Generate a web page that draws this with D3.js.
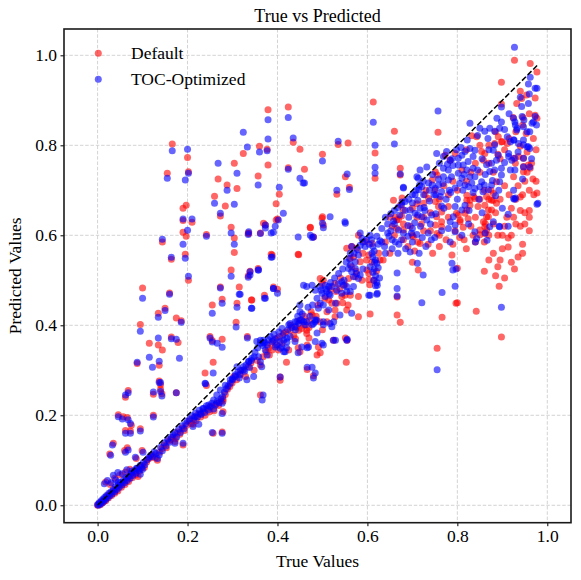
<!DOCTYPE html>
<html>
<head>
<meta charset="utf-8">
<script src="https://d3js.org/d3.v7.min.js"></script>
<style>
  body { margin: 0; background: #fff; }
  text { font-family: "Liberation Serif", "Times New Roman", serif; fill: #000; }
</style>
</head>
<body>
<div id="chart"></div>
<script>
// ---- data: [true, predicted] ----
// near-diagonal band, true 0 .. 0.3
const bandToc = [
  [0.000,0.002],[0.002,0.000],[0.004,0.006],[0.006,0.003],[0.008,0.010],[0.010,0.005],[0.012,0.014],[0.014,0.009],[0.016,0.018],[0.018,0.013],
  [0.020,0.022],[0.022,0.017],[0.025,0.027],[0.027,0.021],[0.030,0.030],[0.032,0.025],[0.035,0.035],[0.038,0.030],[0.040,0.041],[0.043,0.035],
  [0.046,0.045],[0.048,0.040],[0.051,0.050],[0.054,0.045],[0.057,0.055],[0.060,0.050],[0.063,0.061],[0.066,0.055],[0.069,0.065],[0.072,0.060],
  [0.075,0.071],[0.078,0.066],[0.082,0.077],[0.085,0.071],[0.088,0.083],[0.092,0.078],[0.095,0.089],[0.098,0.084],[0.102,0.095],[0.105,0.090],
  [0.015,0.048],[0.022,0.055],[0.030,0.050],[0.040,0.057],[0.046,0.052],[0.035,0.067],[0.045,0.073],[0.055,0.070],[0.065,0.079],[0.076,0.076],[0.086,0.082],[0.095,0.069],[0.100,0.080],
  [0.110,0.101],[0.114,0.106],[0.118,0.111],[0.122,0.108],[0.126,0.119],[0.130,0.115],[0.133,0.104],[0.137,0.112],[0.140,0.129],[0.144,0.121],[0.148,0.139],[0.152,0.132],
  [0.156,0.147],[0.160,0.140],[0.164,0.151],[0.168,0.157],[0.172,0.161],[0.176,0.152],[0.180,0.169],[0.184,0.162],[0.188,0.177],[0.192,0.170],[0.196,0.181],[0.200,0.187],
  [0.205,0.192],[0.210,0.199],[0.214,0.190],[0.218,0.205],[0.222,0.196],[0.226,0.211],[0.230,0.202],[0.234,0.215],[0.238,0.206],[0.242,0.221],[0.246,0.212],[0.250,0.219],
  [0.254,0.227],[0.258,0.214],[0.262,0.223],[0.266,0.231],[0.270,0.228],[0.274,0.237],[0.278,0.241],[0.282,0.251],[0.286,0.259],[0.290,0.265],[0.295,0.271],[0.300,0.279],
  [0.217,0.197],[0.228,0.204],[0.236,0.215],[0.247,0.223],[0.258,0.234],[0.265,0.245],[0.273,0.256],[0.284,0.267],[0.295,0.279]
];
const bandDefault = [
  [0.000,0.000],[0.003,0.004],[0.006,0.001],[0.009,0.008],[0.012,0.006],[0.015,0.013],[0.018,0.010],[0.021,0.020],[0.024,0.016],[0.027,0.025],
  [0.031,0.022],[0.034,0.031],[0.038,0.027],[0.041,0.037],[0.045,0.032],[0.049,0.044],[0.053,0.040],[0.057,0.051],[0.061,0.046],[0.065,0.058],
  [0.069,0.053],[0.073,0.066],[0.077,0.061],[0.081,0.073],[0.085,0.068],[0.090,0.081],[0.094,0.076],[0.099,0.088],[0.104,0.084],
  [0.018,0.052],[0.028,0.046],[0.038,0.060],[0.050,0.068],[0.062,0.074],[0.072,0.080],[0.090,0.064],
  [0.109,0.096],[0.113,0.103],[0.118,0.107],[0.123,0.112],[0.128,0.105],[0.133,0.100],[0.138,0.118],[0.143,0.126],[0.148,0.134],[0.153,0.128],
  [0.158,0.143],[0.163,0.146],[0.168,0.152],[0.173,0.148],[0.178,0.163],[0.183,0.158],[0.188,0.172],[0.193,0.166],[0.198,0.178],
  [0.204,0.188],[0.209,0.182],[0.214,0.195],[0.219,0.188],[0.224,0.203],[0.229,0.196],[0.234,0.208],[0.239,0.200],[0.244,0.215],[0.249,0.208],
  [0.254,0.220],[0.259,0.210],[0.264,0.226],[0.269,0.222],[0.274,0.232],[0.279,0.236],[0.284,0.246],[0.289,0.258],[0.294,0.264],[0.299,0.272]
];

// band, true 0.3 .. 0.64
const midToc = [
  [0.300,0.282],[0.306,0.290],[0.312,0.296],[0.318,0.300],[0.324,0.308],[0.330,0.312],[0.336,0.320],[0.342,0.322],[0.348,0.330],[0.315,0.283],
  [0.327,0.298],[0.338,0.306],[0.310,0.308],[0.325,0.301],[0.336,0.319],[0.343,0.327],[0.358,0.330],[0.362,0.319],[0.365,0.308],[0.347,0.286],
  [0.332,0.279],[0.317,0.290],[0.306,0.286],
  [0.384,0.375],[0.391,0.367],[0.399,0.356],[0.406,0.349],[0.417,0.341],[0.421,0.363],[0.428,0.375],[0.439,0.397],[0.447,0.404],[0.451,0.412],
  [0.458,0.408],[0.362,0.367],[0.369,0.360],[0.373,0.345],[0.377,0.334],[0.480,0.404],[0.487,0.412],[0.502,0.408],[0.517,0.404],
  [0.458,0.489],[0.465,0.486],[0.477,0.489],[0.484,0.478],[0.495,0.486],[0.506,0.489],[0.514,0.486],[0.521,0.486],[0.510,0.475],[0.506,0.464],
  [0.517,0.467],[0.499,0.471],[0.532,0.478],[0.543,0.497],[0.547,0.489],[0.554,0.486],[0.554,0.475],[0.543,0.471],[0.562,0.475],[0.569,0.486],
  [0.558,0.526],[0.562,0.534],[0.565,0.519],[0.569,0.508],[0.573,0.526],[0.576,0.515],[0.580,0.504],[0.584,0.512],
  [0.562,0.560],[0.573,0.541],[0.580,0.556],[0.565,0.575],[0.584,0.578],[0.595,0.575],[0.588,0.593],
  [0.606,0.600],[0.609,0.590],[0.612,0.575],[0.615,0.565],[0.612,0.552],[0.618,0.545],[0.621,0.538],[0.615,0.525],[0.612,0.518],[0.618,0.510],
  [0.621,0.495],[0.618,0.488],[0.624,0.580],[0.628,0.588],[0.621,0.598],[0.632,0.585],[0.638,0.575],[0.603,0.467],[0.621,0.469],
  [0.495,0.449],[0.502,0.445],[0.491,0.438],[0.514,0.434],[0.539,0.423],[0.565,0.427],[0.484,0.412],[0.502,0.401],[0.525,0.408],[0.521,0.397],
  [0.450,0.430],[0.428,0.404],[0.439,0.408],[0.443,0.408],[0.454,0.412],[0.462,0.401],[0.465,0.408],[0.477,0.401],[0.484,0.408],[0.410,0.393],
  [0.425,0.401],[0.388,0.364],[0.399,0.371],[0.406,0.364],[0.414,0.367],[0.421,0.371],[0.395,0.352],[0.410,0.352],[0.354,0.364],[0.362,0.360],
  [0.369,0.367],[0.377,0.356],[0.414,0.341],[0.454,0.352],[0.469,0.352],[0.484,0.364],[0.499,0.360],[0.554,0.367],[0.439,0.364],
  [0.380,0.368],[0.392,0.380],[0.403,0.385],[0.412,0.378],[0.423,0.390],[0.432,0.395],[0.445,0.420],[0.455,0.425],[0.468,0.440],[0.478,0.445],
  [0.488,0.460],[0.497,0.478],[0.508,0.480],[0.518,0.495],[0.527,0.505],[0.536,0.515],[0.545,0.525],[0.553,0.540],[0.560,0.548],[0.570,0.560],
  [0.578,0.568],[0.590,0.585],[0.598,0.590],[0.604,0.580],[0.610,0.560],[0.616,0.540],[0.624,0.528],[0.627,0.505],[0.614,0.500],[0.606,0.530],
  [0.350,0.340],[0.356,0.350],[0.367,0.355],[0.372,0.362],[0.440,0.390],[0.472,0.420],[0.515,0.470],[0.535,0.492],[0.548,0.500],[0.590,0.525]
];
const midDefault = [
  [0.303,0.286],[0.309,0.279],[0.316,0.292],[0.322,0.300],[0.329,0.286],[0.335,0.308],[0.341,0.316],[0.348,0.300],[0.355,0.322],[0.362,0.312],
  [0.368,0.330],[0.375,0.341],[0.382,0.334],[0.396,0.356],[0.402,0.345],[0.410,0.360],[0.436,0.378],[0.442,0.395],[0.458,0.400],[0.470,0.395],
  [0.486,0.420],[0.495,0.504],[0.502,0.500],[0.499,0.493],[0.528,0.493],[0.539,0.482],[0.599,0.523],[0.603,0.515],[0.603,0.501],[0.558,0.504],
  [0.573,0.508],[0.580,0.464],[0.514,0.456],[0.521,0.449],[0.532,0.449],[0.543,0.464],[0.550,0.467],[0.562,0.467],[0.528,0.434],[0.554,0.434],
  [0.580,0.419],[0.477,0.423],[0.495,0.408],[0.510,0.408],[0.528,0.419],[0.454,0.393],[0.465,0.389],[0.447,0.389],[0.465,0.382],[0.414,0.382],
  [0.428,0.389],[0.380,0.349],[0.388,0.345],[0.425,0.345],[0.450,0.341],[0.491,0.352],[0.525,0.367],[0.554,0.571],[0.565,0.575],[0.576,0.571],
  [0.603,0.556],[0.580,0.600],[0.595,0.586],[0.610,0.582],[0.625,0.560],[0.635,0.545],[0.562,0.549],[0.569,0.552],[0.584,0.541],
  [0.385,0.360],[0.395,0.370],[0.405,0.375],[0.418,0.385],[0.430,0.400],[0.448,0.410],[0.460,0.420],[0.475,0.430],[0.490,0.445],[0.505,0.460],
  [0.518,0.480],[0.530,0.475],[0.540,0.505],[0.550,0.490],[0.565,0.530],[0.575,0.520],[0.590,0.560],[0.598,0.545],[0.610,0.540],[0.620,0.520],
  [0.615,0.500],[0.605,0.490],[0.628,0.545],[0.588,0.500],[0.545,0.450],[0.510,0.430],[0.470,0.410],[0.440,0.370],[0.470,0.372],[0.500,0.390]
];

// main blob, true 0.63 .. 0.98
const clusterToc = [
  [0.861,0.831],[0.872,0.838],[0.883,0.831],[0.898,0.852],[0.894,0.838],[0.925,0.860],[0.929,0.845],[0.933,0.838],[0.944,0.864],[0.948,0.856],
  [0.966,0.849],[0.973,0.864],[0.911,0.819],[0.918,0.808],[0.925,0.812],[0.936,0.804],[0.947,0.801],[0.955,0.797],
  [0.802,0.771],[0.810,0.778],[0.817,0.786],[0.828,0.793],[0.839,0.789],[0.835,0.775],[0.824,0.764],[0.813,0.756],
  [0.802,0.756],[0.802,0.738],[0.810,0.727],[0.817,0.712],[0.832,0.716],[0.839,0.730],[0.835,0.749],[0.821,0.745],[0.828,0.730],
  [0.769,0.749],[0.780,0.745],[0.787,0.730],[0.780,0.723],[0.769,0.730],[0.736,0.716],[0.744,0.712],[0.751,0.704],[0.758,0.712],[0.765,0.697],
  [0.762,0.686],[0.721,0.708],[0.714,0.701],[0.706,0.690],[0.795,0.664],[0.810,0.656],[0.817,0.667],[0.791,0.641],[0.784,0.630],
  [0.839,0.704],[0.850,0.708],[0.857,0.697],[0.854,0.719],[0.869,0.701],[0.876,0.712],[0.865,0.757],[0.876,0.760],[0.883,0.745],[0.872,0.742],
  [0.887,0.767],[0.891,0.778],[0.880,0.789],[0.883,0.801],[0.898,0.749],[0.898,0.734],[0.894,0.719],[0.872,0.619],[0.894,0.619],
  [0.839,0.608],[0.843,0.593],[0.914,0.775],[0.921,0.767],[0.925,0.682],[0.979,0.671],
  [0.695,0.656],[0.706,0.649],[0.717,0.660],[0.721,0.641],[0.732,0.634],[0.743,0.645],[0.795,0.623],[0.795,0.608],[0.680,0.705],
  [0.669,0.612],[0.680,0.605],[0.690,0.598],[0.700,0.615],[0.710,0.602],[0.722,0.595],[0.735,0.605],[0.742,0.590],[0.676,0.590],[0.690,0.622],
  [0.645,0.625],[0.652,0.610],[0.658,0.632],[0.648,0.598],[0.662,0.585],[0.655,0.570],[0.640,0.560],[0.668,0.560],
  [0.754,0.782],[0.769,0.775],[0.776,0.786],[0.784,0.767],[0.717,0.745],[0.732,0.752],[0.710,0.730],
  [0.652,0.648],[0.660,0.655],[0.668,0.662],[0.676,0.668],[0.684,0.675],[0.692,0.680],[0.700,0.690],[0.708,0.700],[0.716,0.712],[0.724,0.720],
  [0.700,0.672],[0.712,0.678],[0.725,0.690],[0.738,0.700],[0.748,0.690],[0.758,0.725],[0.768,0.715],[0.778,0.758],[0.788,0.770],[0.798,0.790],
  [0.692,0.640],[0.705,0.628],[0.718,0.620],[0.728,0.655],[0.740,0.625],[0.752,0.648],[0.765,0.665],[0.775,0.680],[0.785,0.695],[0.795,0.705],
  [0.805,0.715],[0.815,0.735],[0.825,0.708],[0.835,0.695],[0.845,0.745],[0.855,0.770],[0.862,0.735],[0.870,0.790],[0.878,0.722],[0.885,0.688],
  [0.745,0.735],[0.760,0.760],[0.790,0.755],[0.808,0.795],[0.822,0.812],[0.845,0.822],[0.868,0.815],[0.888,0.860],[0.905,0.835],[0.915,0.870],
  [0.660,0.625],[0.672,0.645],[0.684,0.655],[0.698,0.605],[0.712,0.645],[0.726,0.662],[0.738,0.676],[0.752,0.690],[0.770,0.660],[0.782,0.700],
  [0.800,0.680],[0.812,0.700],[0.826,0.655],[0.848,0.680],[0.860,0.712],[0.892,0.700],[0.905,0.762],[0.918,0.745],[0.935,0.785],[0.955,0.830],
  [0.640,0.640],[0.632,0.615],[0.645,0.605],[0.655,0.590],[0.670,0.580],[0.685,0.570],[0.700,0.585],[0.715,0.560],[0.730,0.575],[0.750,0.595],
  [0.765,0.610],[0.780,0.615],[0.810,0.600],[0.825,0.625],[0.855,0.650],[0.880,0.630],[0.900,0.660],[0.925,0.700],[0.945,0.725],[0.965,0.770]
];
const clusterDefault = [
  [0.832,0.821],[0.843,0.819],[0.900,0.808],[0.911,0.804],[0.891,0.819],[0.898,0.808],[0.883,0.804],[0.773,0.778],[0.784,0.767],[0.795,0.782],
  [0.751,0.741],[0.755,0.734],[0.744,0.723],[0.728,0.690],[0.736,0.682],[0.725,0.671],[0.751,0.675],[0.758,0.664],[0.765,0.652],[0.780,0.664],
  [0.821,0.689],[0.828,0.678],[0.839,0.682],[0.846,0.664],[0.858,0.767],[0.861,0.782],[0.854,0.786],[0.887,0.719],[0.880,0.693],[0.876,0.678],
  [0.861,0.667],[0.869,0.656],[0.865,0.641],[0.858,0.630],[0.861,0.619],[0.850,0.601],[0.861,0.604],[0.817,0.649],[0.824,0.637],[0.821,0.656],
  [0.802,0.645],[0.806,0.630],[0.813,0.618],[0.925,0.771],[0.929,0.760],[0.936,0.775],[0.947,0.771],[0.947,0.753],[0.958,0.756],[0.962,0.749],
  [0.947,0.741],[0.673,0.734],[0.662,0.640],[0.676,0.643],[0.669,0.635],[0.751,0.623],[0.755,0.604],[0.765,0.619],
  [0.700,0.600],[0.712,0.585],[0.725,0.610],[0.690,0.575],[0.680,0.590],[0.705,0.565],[0.735,0.580],[0.745,0.560],[0.760,0.575],[0.775,0.590],
  [0.790,0.580],[0.805,0.595],[0.820,0.570],[0.880,0.560],[0.895,0.545],[0.905,0.505],[0.870,0.545],[0.935,0.552],[0.890,0.530],[0.920,0.600],
  [0.930,0.625],[0.950,0.650],[0.960,0.610],[0.945,0.580],[0.960,0.700],[0.950,0.720],[0.968,0.725],[0.640,0.585],[0.650,0.560],[0.660,0.600],
  [0.655,0.620],[0.821,0.678],[0.828,0.667],[0.836,0.686],[0.865,0.686],[0.880,0.678],[0.887,0.671],[0.876,0.656],[0.869,0.641],[0.862,0.626],
  [0.865,0.612],[0.658,0.678],[0.673,0.667],[0.680,0.656],[0.665,0.634],[0.680,0.612],[0.702,0.597],[0.717,0.582],[0.754,0.641],[0.765,0.630],
  [0.798,0.649],[0.806,0.634],
  [0.830,0.620],[0.840,0.640],[0.850,0.612],[0.860,0.585],[0.870,0.600],[0.880,0.625],[0.890,0.600],[0.900,0.570],[0.910,0.640],[0.920,0.660],
  [0.930,0.680],[0.940,0.655],[0.950,0.625],[0.960,0.655],[0.970,0.690],[0.875,0.700],[0.895,0.680],[0.905,0.710],[0.915,0.690],[0.925,0.730],
  [0.935,0.710],[0.945,0.690],[0.955,0.740],[0.965,0.760],[0.975,0.790],[0.860,0.520],[0.885,0.510],[0.920,0.540],[0.945,0.560],[0.900,0.600],
  [0.700,0.660],[0.710,0.640],[0.720,0.625],[0.730,0.700],[0.740,0.650],[0.750,0.700],[0.760,0.680],[0.770,0.710],[0.780,0.690],[0.790,0.720],
  [0.800,0.700],[0.810,0.745],[0.820,0.720],[0.830,0.740],[0.840,0.760],[0.850,0.740],[0.860,0.700],[0.870,0.760],[0.880,0.740],[0.890,0.780],
  [0.650,0.640],[0.665,0.615],[0.680,0.625],[0.695,0.620],[0.710,0.670],[0.725,0.640],[0.740,0.610],[0.760,0.600],[0.780,0.640],[0.795,0.610],
  [0.815,0.590],[0.835,0.600],[0.850,0.680],[0.870,0.680],[0.885,0.650],[0.905,0.620],[0.925,0.640],[0.940,0.620],[0.960,0.640],[0.975,0.720],
  [0.905,0.790],[0.915,0.815],[0.930,0.830],[0.945,0.845],[0.960,0.870],[0.895,0.770],[0.885,0.830],[0.870,0.800],[0.850,0.800],[0.820,0.790]
];

// scattered points away from the band
const outlierToc = [
  [0.029,0.111],[0.033,0.134],[0.062,0.118],[0.068,0.123],[0.084,0.107],[0.101,0.118],[0.095,0.165],[0.062,0.160],[0.073,0.160],[0.046,0.197],
  [0.055,0.192],[0.068,0.190],[0.073,0.182],[0.124,0.196],[0.062,0.245],[0.068,0.250],[0.124,0.252],[0.140,0.253],[0.143,0.243],[0.140,0.273],
  [0.175,0.250],[0.172,0.138],[0.190,0.138],[0.212,0.175],[0.225,0.180],[0.255,0.162],[0.277,0.160],[0.277,0.204],[0.240,0.270],[0.277,0.227],
  [0.366,0.234],[0.100,0.460],[0.160,0.469],[0.135,0.418],[0.150,0.433],[0.186,0.407],[0.095,0.387],[0.135,0.372],[0.164,0.370],[0.175,0.369],
  [0.115,0.329],[0.137,0.320],[0.122,0.307],[0.088,0.318],[0.182,0.327],[0.137,0.273],[0.144,0.591],[0.164,0.551],[0.190,0.636],[0.210,0.636],
  [0.200,0.611],[0.190,0.580],[0.195,0.549],[0.202,0.509],[0.260,0.671],[0.288,0.700],[0.273,0.649],[0.304,0.669],[0.242,0.598],[0.297,0.605],
  [0.304,0.580],[0.335,0.602],[0.373,0.616],[0.386,0.605],[0.391,0.607],[0.395,0.620],[0.446,0.596],[0.386,0.551],[0.297,0.509],[0.339,0.512],
  [0.335,0.507],[0.357,0.523],[0.391,0.482],[0.400,0.471],[0.371,0.460],[0.273,0.483],[0.315,0.469],[0.277,0.449],[0.310,0.440],[0.255,0.427],
  [0.342,0.438],[0.308,0.396],[0.250,0.372],[0.255,0.363],[0.266,0.360],[0.277,0.351],[0.333,0.372],[0.257,0.294],[0.239,0.271],
  [0.166,0.788],[0.200,0.791],[0.202,0.738],[0.155,0.727],[0.195,0.723],[0.268,0.760],[0.310,0.738],[0.324,0.829],[0.333,0.796],[0.360,0.785],
  [0.377,0.788],[0.357,0.712],[0.379,0.857],[0.379,0.814],[0.424,0.862],[0.435,0.816],[0.424,0.747],[0.450,0.727],[0.460,0.716],[0.404,0.707],
  [0.535,0.809],[0.500,0.765],[0.457,0.716],[0.555,0.736],[0.560,0.702],[0.532,0.700],[0.613,0.851],[0.617,0.800],[0.617,0.751],[0.617,0.738],
  [0.660,0.803],[0.673,0.736],[0.680,0.707],[0.677,0.674],[0.713,0.727],[0.757,0.876],[0.413,0.649],[0.517,0.641],[0.500,0.627],[0.551,0.627],
  [0.473,0.600],[0.480,0.596],[0.584,0.605],[0.336,0.608],[0.362,0.604],[0.373,0.623],[0.402,0.634],[0.477,0.595],[0.502,0.617],[0.550,0.630],
  [0.388,0.552],[0.339,0.519],[0.358,0.523],[0.317,0.469],[0.373,0.460],[0.391,0.482],[0.343,0.438],[0.450,0.445],
  [0.406,0.285],[0.466,0.307],[0.477,0.307],[0.480,0.283],[0.484,0.294],[0.420,0.350],[0.446,0.339],[0.466,0.350],[0.488,0.383],[0.502,0.356],
  [0.524,0.367],[0.555,0.369],[0.529,0.367],[0.529,0.449],[0.368,0.245],
  [0.606,0.467],[0.622,0.489],[0.622,0.471],[0.666,0.516],[0.666,0.482],[0.666,0.465],[0.721,0.450],[0.766,0.473],[0.795,0.487],[0.755,0.301],
  [0.898,0.440],[0.797,0.525],[0.788,0.538],[0.790,0.523],[0.784,0.585],[0.711,0.538],[0.724,0.512],[0.695,0.563],[0.840,0.585],[0.866,0.589],
  [0.862,0.605],[0.977,0.669],[0.927,0.680],[0.913,0.647],[0.893,0.620],[0.913,0.620],
  [0.927,1.018],[0.962,0.951],[0.958,0.936],[0.940,0.907],[0.960,0.914],[0.973,0.927],[0.977,0.927],[0.898,0.885],[0.943,0.886],[0.958,0.893],
  [0.928,0.852],[0.932,0.834],[0.947,0.841],[0.961,0.830],[0.969,0.852],[0.976,0.845],[0.926,0.812],[0.947,0.812],[0.958,0.797],[0.961,0.793],
  [0.914,0.782],[0.928,0.771],[0.947,0.771],[0.928,0.745],[0.947,0.752],[0.961,0.752],[0.929,0.683],[0.828,0.849],[0.850,0.838]
];
const outlierDefault = [
  [0.027,0.114],[0.035,0.138],[0.060,0.122],[0.066,0.128],[0.086,0.104],[0.099,0.122],[0.095,0.170],[0.062,0.166],[0.073,0.165],[0.046,0.201],
  [0.057,0.197],[0.066,0.195],[0.075,0.178],[0.124,0.200],[0.062,0.240],[0.068,0.255],[0.124,0.247],[0.140,0.258],[0.143,0.248],[0.140,0.268],
  [0.175,0.250],[0.172,0.142],[0.190,0.134],[0.212,0.180],[0.257,0.160],[0.277,0.163],[0.279,0.208],[0.242,0.266],[0.279,0.231],[0.362,0.245],
  [0.406,0.278],[0.100,0.483],[0.160,0.472],[0.135,0.427],[0.150,0.438],[0.175,0.416],[0.186,0.410],[0.095,0.402],[0.115,0.360],[0.135,0.356],
  [0.144,0.345],[0.164,0.374],[0.179,0.362],[0.137,0.311],[0.088,0.315],[0.137,0.276],[0.144,0.585],[0.164,0.547],[0.197,0.667],[0.190,0.660],
  [0.190,0.633],[0.210,0.629],[0.190,0.607],[0.197,0.598],[0.195,0.558],[0.202,0.500],[0.260,0.687],[0.284,0.665],[0.273,0.643],[0.242,0.602],
  [0.297,0.618],[0.304,0.594],[0.304,0.562],[0.335,0.605],[0.362,0.605],[0.373,0.623],[0.397,0.634],[0.400,0.636],[0.397,0.670],[0.446,0.558],
  [0.386,0.558],[0.297,0.523],[0.339,0.520],[0.335,0.510],[0.357,0.526],[0.391,0.485],[0.400,0.480],[0.371,0.467],[0.273,0.485],[0.315,0.485],
  [0.277,0.458],[0.310,0.449],[0.255,0.445],[0.342,0.456],[0.308,0.407],[0.250,0.375],[0.255,0.366],[0.277,0.369],[0.333,0.375],[0.257,0.318],
  [0.239,0.294],[0.369,0.627],[0.336,0.604],[0.447,0.557],[0.343,0.456],[0.388,0.556],
  [0.166,0.803],[0.200,0.773],[0.202,0.741],[0.155,0.738],[0.268,0.725],[0.288,0.712],[0.310,0.704],[0.304,0.760],[0.324,0.782],[0.360,0.798],
  [0.377,0.791],[0.357,0.732],[0.379,0.879],[0.379,0.756],[0.424,0.885],[0.435,0.807],[0.450,0.791],[0.424,0.750],[0.460,0.747],[0.404,0.691],
  [0.535,0.802],[0.557,0.805],[0.500,0.780],[0.551,0.730],[0.560,0.707],[0.532,0.691],[0.613,0.896],[0.617,0.783],[0.617,0.727],[0.660,0.831],
  [0.673,0.749],[0.677,0.683],[0.757,0.829],[0.473,0.618],[0.480,0.596],[0.500,0.641],[0.502,0.623],[0.499,0.638],[0.473,0.617],
  [0.406,0.285],[0.420,0.318],[0.446,0.350],[0.466,0.356],[0.466,0.302],[0.480,0.288],[0.488,0.334],[0.495,0.339],[0.555,0.367],[0.553,0.318],
  [0.551,0.372],[0.557,0.445],
  [0.606,0.425],[0.666,0.423],[0.673,0.407],[0.800,0.450],[0.766,0.418],[0.755,0.349],[0.842,0.431],[0.797,0.449],[0.893,0.487],[0.898,0.374],
  [0.927,0.525],[0.913,0.594],[0.913,0.574],[0.800,0.527],[0.788,0.556],[0.713,0.523],[0.700,0.540],[0.666,0.463],[0.840,0.585],
  [0.977,0.694],[0.940,0.685],
  [0.927,0.989],[0.962,0.982],[0.977,0.963],[0.898,0.940],[0.940,0.920],[0.973,0.905],[0.898,0.892],[0.932,0.893],[0.943,0.904],[0.954,0.912],
  [0.973,0.867],[0.977,0.860],[0.946,0.862],[0.924,0.862],[0.953,0.826],[0.969,0.815],[0.955,0.785],[0.940,0.798]
];

const seriesNames = ["Default", "TOC-Optimized"];
const seriesColors = ["#ff0000", "#0000ff"];
const xTicks = [0.0, 0.2, 0.4, 0.6, 0.8, 1.0];
const yTicks = [0.0, 0.2, 0.4, 0.6, 0.8, 1.0];

const W = 581, H = 580;
const margin = {top: 29, right: 10, bottom: 57.3, left: 64};
const iw = W - margin.left - margin.right,
      ih = H - margin.top - margin.bottom;

const svg = d3.select("#chart").append("svg")
    .attr("width", W)
    .attr("height", H);

const x = d3.scaleLinear().domain([-0.0747, 1.0527]).range([0, iw]);
const y = d3.scaleLinear().domain([-0.0387, 1.0585]).range([ih, 0]);

const g = svg.append("g")
    .attr("transform", `translate(${margin.left},${margin.top})`);

// grid
g.append("g").selectAll("line")
  .data(xTicks).join("line")
    .attr("x1", d => x(d)).attr("x2", d => x(d))
    .attr("y1", 0).attr("y2", ih)
    .attr("stroke", "#b0b0b0").attr("stroke-opacity", 0.7)
    .attr("stroke-width", 0.8).attr("stroke-dasharray", "3.5,1.8");
g.append("g").selectAll("line")
  .data(yTicks).join("line")
    .attr("y1", d => y(d)).attr("y2", d => y(d))
    .attr("x1", 0).attr("x2", iw)
    .attr("stroke", "#b0b0b0").attr("stroke-opacity", 0.7)
    .attr("stroke-width", 0.8).attr("stroke-dasharray", "3.5,1.8");

const series = [
  bandDefault.concat(midDefault, clusterDefault, outlierDefault),
  bandToc.concat(midToc, clusterToc, outlierToc)
];

series.forEach((pts, i) => {
  g.append("g").selectAll("circle")
    .data(pts).join("circle")
      .attr("cx", d => x(d[0]))
      .attr("cy", d => y(d[1]))
      .attr("r", 3.5)
      .attr("fill", seriesColors[i])
      .attr("fill-opacity", 0.6);
});

// ideal line
const allTrue = series[0].concat(series[1]).map(d => d[0]);
const [tMin, tMax] = d3.extent(allTrue);
g.append("line")
    .attr("x1", x(tMin)).attr("y1", y(tMin))
    .attr("x2", x(tMax)).attr("y2", y(tMax))
    .attr("stroke", "#000").attr("stroke-width", 1.5)
    .attr("stroke-dasharray", "5.5,2.4");

// axes
const fmt = d3.format(".1f");
const xAxis = g.append("g")
    .attr("transform", `translate(0,${ih})`)
    .call(d3.axisBottom(x).tickValues(xTicks).tickFormat(fmt).tickSize(3.5).tickPadding(3.5));
const yAxis = g.append("g")
    .call(d3.axisLeft(y).tickValues(yTicks).tickFormat(fmt).tickSize(3.5).tickPadding(3.5));
[xAxis, yAxis].forEach(a => {
  a.select(".domain").remove();
  a.selectAll(".tick line").attr("stroke", "#000").attr("stroke-width", 1);
  a.selectAll(".tick text")
    .style("font-family", '"Liberation Serif", "Times New Roman", serif')
    .style("font-size", "17.5px").attr("fill", "#000");
});

// frame
g.append("rect")
    .attr("width", iw).attr("height", ih)
    .attr("fill", "none").attr("stroke", "#1a1a1a").attr("stroke-width", 1.6);

// labels
svg.append("text")
    .attr("x", margin.left + iw / 2).attr("y", 22)
    .attr("text-anchor", "middle").style("font-size", "18px")
    .text("True vs Predicted");
svg.append("text")
    .attr("x", margin.left + iw / 2).attr("y", 567)
    .attr("text-anchor", "middle").style("font-size", "17.5px")
    .text("True Values");
svg.append("text")
    .attr("transform", `translate(21,${margin.top + ih / 2}) rotate(-90)`)
    .attr("text-anchor", "middle").style("font-size", "17.5px")
    .text("Predicted Values");

// legend
const legend = svg.append("g");
seriesNames.forEach((name, i) => {
  const ly = 53.3 + i * 26;
  legend.append("circle")
      .attr("cx", 98.3).attr("cy", ly).attr("r", 3.5)
      .attr("fill", seriesColors[i]).attr("fill-opacity", 0.6);
  legend.append("text")
      .attr("x", 131).attr("y", ly + 5.7)
      .style("font-size", "17.5px")
      .text(name);
});
</script>
</body>
</html>
